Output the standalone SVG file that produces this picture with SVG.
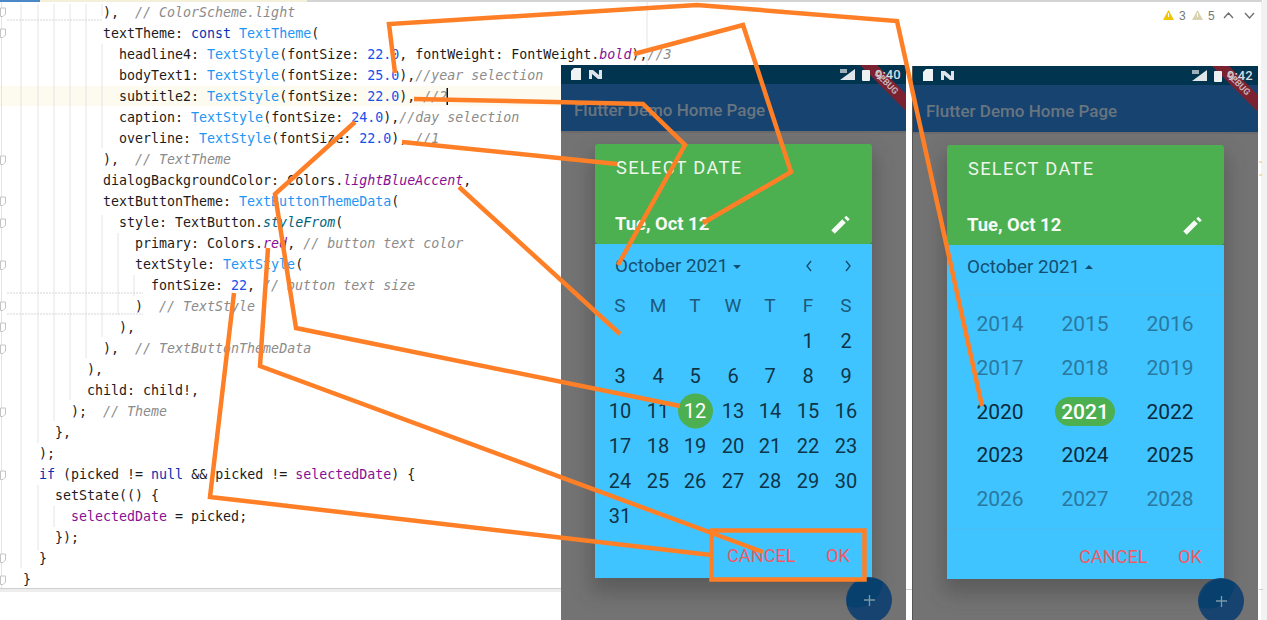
<svg xmlns="http://www.w3.org/2000/svg" width="1267" height="620" viewBox="0 0 1267 620">
<style>
text{white-space:pre}
.c{font:13.3px "DejaVu Sans Mono","Liberation Mono",monospace;fill:#1c1c1c}
.k{fill:#0033b3}.t{fill:#2196f3}.n{fill:#1750eb}.p{fill:#871094}.o{fill:#871094;font-style:italic}.m{fill:#00627a;font-style:italic}.g{fill:#8c8c8c;font-style:italic}
.guide{stroke:#e4e4e4;stroke-width:1;fill:none}
.sq{stroke:#d6d6d6;stroke-width:1;stroke-dasharray:2 1;fill:none}
.r{font-family:Roboto,"Liberation Sans",sans-serif}
.d{font-size:20px;fill:#0f3448;text-anchor:middle}
.w{font-size:19px;fill:#1d5a7d;text-anchor:middle}
.y{font-size:21px;text-anchor:middle;fill:#2a789f}
.yb{fill:#0a2a3d}
.head{font-size:18.3px;letter-spacing:1.3px;fill:#eef6ec}
.date{font-size:18.4px;font-weight:700;fill:#f7fbf6}
.month{font-size:18.8px;fill:#134e71}
.title{font-size:17px;font-weight:500;fill:#68757f}
.act{font-size:18.2px;fill:#ef5a63}
.time{font-size:13px;font-weight:500;fill:#d5dce0}
.conn{fill:none;stroke:#ff7f27;stroke-width:4.5;stroke-linejoin:miter}
</style>
<defs>
<path id="fold" d="M0.5 -4H5.5V2L3 4.5H0.5Z" fill="#fff" stroke="#c4c4c4"/>
<filter id="blur" x="-30%" y="-30%" width="160%" height="160%"><feGaussianBlur stdDeviation="10"/></filter>
<g id="phone-chrome">
<rect x="0" y="0" width="345" height="555" fill="#737373"/>
<rect x="0" y="0" width="345" height="19" fill="#01344f"/>
<rect x="0" y="19" width="345" height="47" fill="#174370"/>
<rect x="0" y="66" width="345" height="2" fill="#666" opacity=".6"/>
<rect x="30" y="88" width="284" height="440" rx="3" fill="#333" opacity=".35" filter="url(#blur)"/>
<path d="M299 0H316L345 29V46Z" fill="#7a2230"/>
<path d="M13 3H20V15H10V6Z" fill="#f0f3f4"/>
<path d="M28 5H32L38 10V5H41V14H37L31 9V14H28Z" fill="#dfe5e8"/>
<path d="M279 15L294 4V15Z" fill="#dfe5e8"/>
<rect x="279" y="4" width="7" height="4" fill="#9fb0ba"/>
<rect x="301" y="5" width="8" height="11" rx="1" fill="#eef1f2"/>
<rect x="34" y="79" width="277" height="100" rx="3" fill="#4caf50"/>
<rect x="34" y="179" width="277" height="334" fill="#40c4ff"/>
<rect x="34" y="500" width="277" height="13" rx="3" fill="#40c4ff"/>
<path d="M272 167L283 156" stroke="#f7fbf6" stroke-width="5" fill="none"/>
<path d="M285 154.500L287 152.500" stroke="#f7fbf6" stroke-width="5" fill="none"/>
<circle cx="308" cy="535" r="23" fill="#174370"/>
<path d="M286 535a23 23 0 0 1 36 -18a27 27 0 0 1 -36 24z" fill="#023f6b" opacity=".7"/>
<path d="M303 535H314M308.500 530V541" stroke="#7f98a8" stroke-width="1.300" fill="none"/>
<text class="r title" x="13" y="51">Flutter Demo Home Page</text>
<text class="r head" x="55" y="109">SELECT DATE</text>
<text class="r date" x="54" y="165">Tue, Oct 12</text>
<text class="r month" x="54" y="207">October 2021</text>
<text class="r act" x="166" y="497">CANCEL</text>
<text class="r act" x="265" y="497">OK</text>
</g>
</defs>

<rect width="1267" height="620" fill="#fff"/>

<g id="editor">
<rect x="0" y="0" width="1262" height="2" fill="#d4d4d4"/>
<rect x="0" y="0" width="40" height="2" fill="#4a88c7"/>
<rect x="40" y="0" width="267" height="2" fill="#f4efd8"/>
<rect x="0" y="86" width="561" height="20" fill="#fdfaef"/>
<path class="guide" d="M647 2V65M1.500 2V589M21 4V568M38 4V443M38 485V550M54 4V421M54 506V527M70 4V400M86 4V358M102 4V16M102 44V148M102 215V337M118 233V315M134 275V296M1262 2V620"/>
<path class="sq" d="M7 20H103M7 293H143M7 314H143"/>
<rect x="0" y="589" width="561" height="3" fill="#ededed"/>
<rect x="0" y="588" width="561" height="1" fill="#cfcfcf"/>
<rect x="906" y="589" width="7" height="1" fill="#cfcfcf"/>
<rect x="1259" y="589" width="8" height="1" fill="#cfcfcf"/>
<rect x="1263" y="0" width="4" height="620" fill="#f2f2f2"/>
<path d="M1259 162h3M1259 175h3" stroke="#e6c84a" stroke-width="1"/>
<use href="#fold" y="12"/><use href="#fold" y="33"/><use href="#fold" y="160"/><use href="#fold" y="201"/><use href="#fold" y="223"/><use href="#fold" y="265"/><use href="#fold" y="306"/><use href="#fold" y="327"/><use href="#fold" y="349"/><use href="#fold" y="412"/><use href="#fold" y="475"/><use href="#fold" y="558"/><use href="#fold" y="580"/>
<text class="c" x="103" y="17">),  <tspan class="g">// ColorScheme.light</tspan></text>
<text class="c" x="103" y="38">textTheme: <tspan class="k">const</tspan> <tspan class="t">TextTheme</tspan>(</text>
<text class="c" x="119" y="59">headline4: <tspan class="t">TextStyle</tspan>(fontSize: <tspan class="n">22.0</tspan>, fontWeight: FontWeight.<tspan class="o">bold</tspan>),<tspan class="g">//3</tspan></text>
<text class="c" x="119" y="80">bodyText1: <tspan class="t">TextStyle</tspan>(fontSize: <tspan class="n">25.0</tspan>),<tspan class="g">//year selection</tspan></text>
<text class="c" x="119" y="101">subtitle2: <tspan class="t">TextStyle</tspan>(fontSize: <tspan class="n">22.0</tspan>), <tspan class="g">//2</tspan></text>
<text class="c" x="119" y="122">caption: <tspan class="t">TextStyle</tspan>(fontSize: <tspan class="n">24.0</tspan>),<tspan class="g">//day selection</tspan></text>
<text class="c" x="119" y="143">overline: <tspan class="t">TextStyle</tspan>(fontSize: <tspan class="n">22.0</tspan>), <tspan class="g">//1</tspan></text>
<text class="c" x="103" y="164">),  <tspan class="g">// TextTheme</tspan></text>
<text class="c" x="103" y="185">dialogBackgroundColor: Colors.<tspan class="o">lightBlueAccent</tspan>,</text>
<text class="c" x="103" y="206">textButtonTheme: <tspan class="t">TextButtonThemeData</tspan>(</text>
<text class="c" x="119" y="227">style: TextButton.<tspan class="m">styleFrom</tspan>(</text>
<text class="c" x="135" y="248">primary: Colors.<tspan class="o">red</tspan>, <tspan class="g">// button text color</tspan></text>
<text class="c" x="135" y="269">textStyle: <tspan class="t">TextStyle</tspan>(</text>
<text class="c" x="151" y="290">fontSize: <tspan class="n">22</tspan>, <tspan class="g">// button text size</tspan></text>
<text class="c" x="135" y="311">)  <tspan class="g">// TextStyle</tspan></text>
<text class="c" x="119" y="332">),</text>
<text class="c" x="103" y="353">),  <tspan class="g">// TextButtonThemeData</tspan></text>
<text class="c" x="87" y="374">),</text>
<text class="c" x="87" y="395">child: child!,</text>
<text class="c" x="71" y="416">);  <tspan class="g">// Theme</tspan></text>
<text class="c" x="55" y="437">},</text>
<text class="c" x="39" y="458">);</text>
<text class="c" x="39" y="479"><tspan class="k">if</tspan> (picked != <tspan class="k">null</tspan> &amp;&amp; picked != <tspan class="p">selectedDate</tspan>) {</text>
<text class="c" x="55" y="500">setState(() {</text>
<text class="c" x="71" y="521"><tspan class="p">selectedDate</tspan> = picked;</text>
<text class="c" x="55" y="542">});</text>
<text class="c" x="39" y="563">}</text>
<text class="c" x="23" y="584">}</text>
<rect x="446.500" y="88" width="1.500" height="17" fill="#111"/>
</g>

<g id="inspection">
<path d="M1163 20L1168.500 10L1174 20Z" fill="#f2c500"/>
<path d="M1168.500 13V17" stroke="#fff" stroke-width="1"/>
<text x="1179" y="20" font-family="Liberation Sans,sans-serif" font-size="12" fill="#777">3</text>
<path d="M1192 20L1197.500 10L1203 20Z" fill="#d9d2b0"/>
<path d="M1197.500 13V17" stroke="#fff" stroke-width="1"/>
<text x="1208" y="20" font-family="Liberation Sans,sans-serif" font-size="12" fill="#777">5</text>
<path d="M1224 18L1228.500 13L1233 18M1245 13L1249.500 18L1254 13" fill="none" stroke="#6e6e6e" stroke-width="1.300"/>
</g>

<g id="phone-month" transform="translate(561,65)">
<use href="#phone-chrome"/>
<text class="r time" x="314" y="14">9:40</text>
<text class="r" transform="translate(325,18) rotate(45)" font-size="9" font-weight="700" fill="#c9b0b5" text-anchor="middle" dominant-baseline="middle">DEBUG</text>
<path d="M172 200h8l-4 4z" fill="#134e71"/>
<path d="M250 196l-4 5 4 5M285 196l4 5-4 5" fill="none" stroke="#134e71" stroke-width="1.400"/>
<g class="r">
<text class="w" x="59" y="247">S</text><text class="w" x="97" y="247">M</text><text class="w" x="134" y="247">T</text><text class="w" x="172" y="247">W</text><text class="w" x="209" y="247">T</text><text class="w" x="247" y="247">F</text><text class="w" x="285" y="247">S</text>
<text class="d" x="247" y="283">1</text><text class="d" x="285" y="283">2</text>
<text class="d" x="59" y="318">3</text><text class="d" x="97" y="318">4</text><text class="d" x="134" y="318">5</text><text class="d" x="172" y="318">6</text><text class="d" x="209" y="318">7</text><text class="d" x="247" y="318">8</text><text class="d" x="285" y="318">9</text>
<circle cx="134.500" cy="346" r="17.500" fill="#4caf50"/>
<text class="d" x="59" y="353">10</text><text class="d" x="97" y="353">11</text><text class="d" x="134" y="353" style="fill:#fff">12</text><text class="d" x="172" y="353">13</text><text class="d" x="209" y="353">14</text><text class="d" x="247" y="353">15</text><text class="d" x="285" y="353">16</text>
<text class="d" x="59" y="388">17</text><text class="d" x="97" y="388">18</text><text class="d" x="134" y="388">19</text><text class="d" x="172" y="388">20</text><text class="d" x="209" y="388">21</text><text class="d" x="247" y="388">22</text><text class="d" x="285" y="388">23</text>
<text class="d" x="59" y="423">24</text><text class="d" x="97" y="423">25</text><text class="d" x="134" y="423">26</text><text class="d" x="172" y="423">27</text><text class="d" x="209" y="423">28</text><text class="d" x="247" y="423">29</text><text class="d" x="285" y="423">30</text>
<text class="d" x="59" y="458">31</text>
</g>
</g>

<g id="phone-year" transform="translate(913,66)">
<use href="#phone-chrome"/>
<rect x="-1" y="0" width="1" height="554" fill="#555"/>
<text class="r time" x="314" y="14">9:42</text>
<text class="r" transform="translate(325,18) rotate(45)" font-size="9" font-weight="700" fill="#c9b0b5" text-anchor="middle" dominant-baseline="middle">DEBUG</text>
<path d="M172 203h8l-4 -4z" fill="#134e71"/>
<path d="M34 229H311M34 463H311" stroke="#4abdf2" stroke-width="1"/>
<rect x="142" y="331" width="60" height="29" rx="14.500" fill="#4caf50"/>
<g class="r">
<text class="y" x="87" y="265">2014</text><text class="y" x="172" y="265">2015</text><text class="y" x="257" y="265">2016</text>
<text class="y" x="87" y="309">2017</text><text class="y" x="172" y="309">2018</text><text class="y" x="257" y="309">2019</text>
<text class="y yb" x="87" y="352.500">2020</text><text class="y" x="172" y="352.500" style="fill:#fff;font-weight:500">2021</text><text class="y yb" x="257" y="352.500">2022</text>
<text class="y yb" x="87" y="396">2023</text><text class="y yb" x="172" y="396">2024</text><text class="y yb" x="257" y="396">2025</text>
<text class="y" x="87" y="440">2026</text><text class="y" x="172" y="440">2027</text><text class="y" x="257" y="440">2028</text>
</g>
</g>

<g id="connectors">
<path class="conn" d="M395 73L389 24L697 5L897 21L982 406"/>
<path class="conn" d="M634 54L743 25L791 172L703 223"/>
<path class="conn" d="M414 99L643 104L685 145L618 265"/>
<path class="conn" d="M402 142L617 164"/>
<path class="conn" d="M355 122L275 194L296 328L680 406"/>
<path class="conn" d="M459 187L620 334"/>
<path class="conn" d="M268 248L260 366L763 552"/>
<path class="conn" d="M234 293L210 497L711 555"/>
<rect class="conn" x="711.500" y="530.500" width="153" height="49" stroke-width="5"/>
</g>
</svg>
